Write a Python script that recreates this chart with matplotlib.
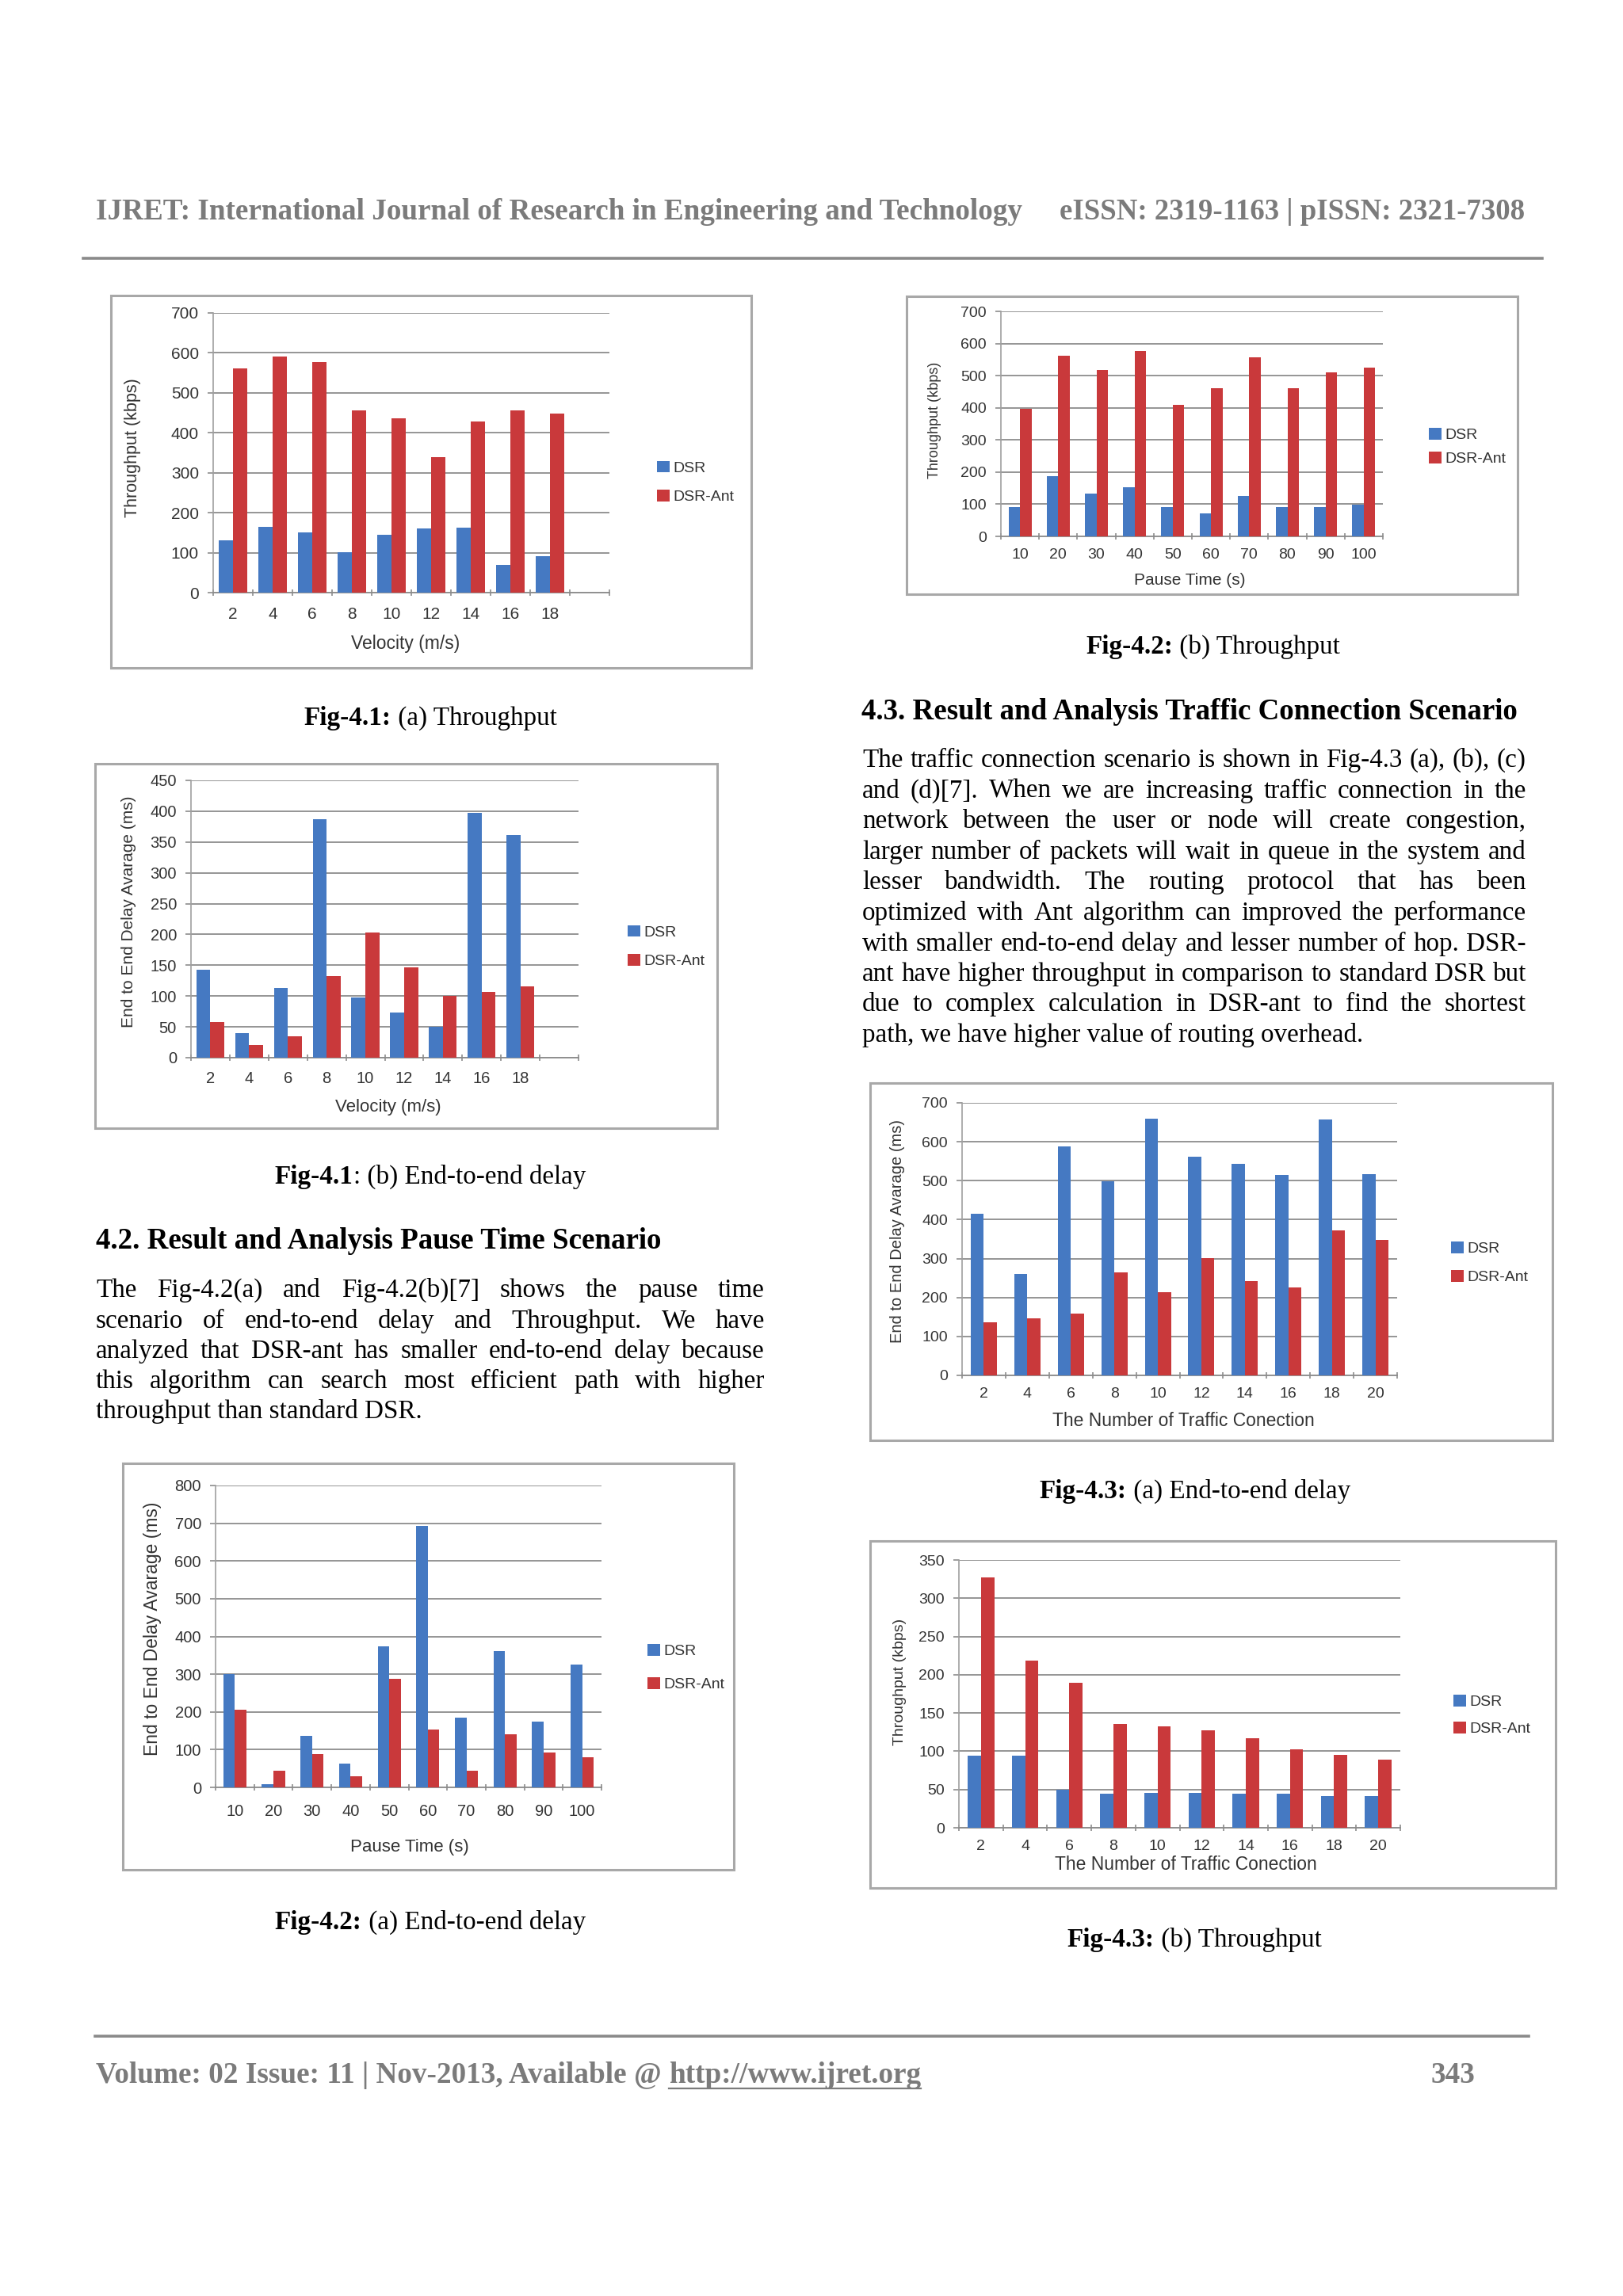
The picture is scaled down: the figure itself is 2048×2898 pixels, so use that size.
import numpy as np
import matplotlib
matplotlib.use('Agg')
import matplotlib.pyplot as plt
from matplotlib.patches import Rectangle
from matplotlib.lines import Line2D

W, H = 2048, 2898
SERIF = 'Liberation Serif'
SANS = 'Liberation Sans'
BLUE = '#4579C2'
RED = '#C9393B'
GRAY = '#7b7b7b'

# ---- data ----
velocity = ['2', '4', '6', '8', '10', '12', '14', '16', '18']
pause_time = ['10', '20', '30', '40', '50', '60', '70', '80', '90', '100']
connections = ['2', '4', '6', '8', '10', '12', '14', '16', '18', '20']
series = ['DSR', 'DSR-Ant']

# Fig-4.1 (a) throughput (kbps) vs velocity
thr_vel_dsr = [130, 165, 150, 102, 145, 160, 163, 70, 92]
thr_vel_ant = [562, 590, 578, 456, 436, 340, 428, 456, 448]
# Fig-4.1 (b) end to end delay (ms) vs velocity
dly_vel_dsr = [143, 40, 113, 387, 98, 73, 50, 397, 361]
dly_vel_ant = [58, 20, 35, 133, 203, 146, 100, 107, 116]
# Fig-4.2 (a) end to end delay (ms) vs pause time
dly_pause_dsr = [300, 8, 137, 63, 373, 693, 184, 362, 175, 325]
dly_pause_ant = [205, 45, 88, 30, 288, 154, 45, 140, 92, 80]
# Fig-4.2 (b) throughput (kbps) vs pause time
thr_pause_dsr = [90, 188, 132, 152, 90, 72, 126, 90, 90, 98]
thr_pause_ant = [398, 562, 518, 577, 410, 460, 558, 462, 510, 525]
# Fig-4.3 (a) end to end delay (ms) vs traffic connections
dly_conn_dsr = [415, 260, 588, 498, 660, 562, 543, 514, 658, 516]
dly_conn_ant = [137, 146, 158, 265, 213, 302, 242, 226, 373, 347]
# Fig-4.3 (b) throughput (kbps) vs traffic connections
thr_conn_dsr = [94, 94, 50, 45, 46, 46, 45, 45, 41, 41]
thr_conn_ant = [327, 219, 189, 136, 133, 127, 117, 102, 95, 89]

# ---- page text ----
header_left = 'IJRET: International Journal of Research in Engineering and Technology'
header_right = 'eISSN: 2319-1163 | pISSN: 2321-7308'
footer_left = 'Volume: 02 Issue: 11 | Nov-2013, Available @ '
footer_url = 'http://www.ijret.org'
page_no = '343'

head_43 = '4.3. Result and Analysis Traffic Connection Scenario'
para_43 = ['The traffic connection scenario is shown in Fig-4.3 (a), (b), (c)',
           'and (d)[7]. When we are increasing traffic connection in the',
           'network between the user or node will create congestion,',
           'larger number of packets will wait in queue in the system and',
           'lesser bandwidth. The routing protocol that has been',
           'optimized with Ant algorithm can improved the performance',
           'with smaller end-to-end delay and lesser number of hop. DSR-',
           'ant have higher throughput in comparison to standard DSR but',
           'due to complex calculation in DSR-ant to find the shortest',
           'path, we have higher value of routing overhead.']
head_42 = '4.2. Result and Analysis Pause Time Scenario'
para_42 = ['The Fig-4.2(a) and Fig-4.2(b)[7] shows the pause time',
           'scenario of end-to-end delay and Throughput. We have',
           'analyzed that DSR-ant has smaller end-to-end delay because',
           'this algorithm can search most efficient path with higher',
           'throughput than standard DSR.']

fig = plt.figure(figsize=(W / 100, H / 100), dpi=100)
fig.patch.set_facecolor('white')
R = fig.canvas.get_renderer()


def fx(x):
    return x / W


def fy(y):
    return 1 - y / H


def width(s, size, weight='normal', family=SERIF):
    t = fig.text(0, 0, s, fontsize=size, fontweight=weight, family=family)
    w = t.get_window_extent(R).width
    t.remove()
    return w


def put(x, y, s, size, weight='normal', color='black', family=SERIF, ha='left'):
    # y is the visual centre of the line, convert to a baseline
    base = y + 0.3 * size * 100 / 72
    return fig.text(fx(x), fy(base), s, fontsize=size, fontweight=weight,
                    color=color, family=family, ha=ha, va='baseline')


def fit_size(s, x0, x1, weight='normal'):
    return 20 * (x1 - x0) / width(s, 20, weight)


def paragraph(lines, x0, x1, ys, size):
    for i, (line, y) in enumerate(zip(lines, ys)):
        if i == len(lines) - 1:
            put(x0, y, line, size)
            continue
        words = line.split()
        ws = [width(w, size) for w in words]
        gap = (x1 - x0 - sum(ws)) / (len(words) - 1)
        x = x0
        for w, wd in zip(words, ws):
            put(x, y, w, size)
            x += wd + gap


def caption(cx, y, bold, rest, size):
    wb = width(bold, size, 'bold')
    wr = width(rest, size)
    x = cx - (wb + wr) / 2
    put(x, y, bold, size, 'bold')
    put(x + wb, y, rest, size)


def chart(box, area, cats, dsr, ant, ymax, step, bw, fs,
          ylabel, ylab_xy, ylab_fs, xlabel, xlab_xy, xlab_fs, leg_xy, leg_sp, xpad):
    l, t, r, b = box
    fig.patches.append(Rectangle((fx(l), fy(b)), (r - l) / W, (b - t) / H,
                                 transform=fig.transFigure, fill=False,
                                 ec='#a8a8a8', lw=2.2))
    l, t, r, b = area
    ax = fig.add_axes([fx(l), fy(b), (r - l) / W, (b - t) / H])
    x = np.arange(len(cats))
    ax.bar(x - bw / 2, dsr, bw, color=BLUE, label=series[0], zorder=3)
    ax.bar(x + bw / 2, ant, bw, color=RED, label=series[1], zorder=3)
    ax.set_xlim(-0.5, 9.5)
    ax.set_ylim(0, ymax)
    ax.set_yticks(np.arange(0, ymax + step, step))
    ax.set_xticks(x)
    ax.set_xticklabels(cats)
    ax.set_xticks(np.arange(-0.5, 10, 1), minor=True)
    ax.tick_params(axis='x', which='major', length=0, pad=xpad,
                   labelsize=fs, labelcolor='#333333')
    ax.tick_params(axis='x', which='minor', length=6, width=1.2,
                   color='#8c8c8c', direction='inout')
    ax.tick_params(axis='y', length=5, width=1.2, color='#8c8c8c', pad=8,
                   labelsize=fs, labelcolor='#333333')
    for lab in ax.get_xticklabels() + ax.get_yticklabels():
        lab.set_family(SANS)
    ax.yaxis.grid(True, color='#8c8c8c', lw=1.3)
    ax.set_axisbelow(True)
    ax.spines['top'].set_visible(False)
    ax.spines['right'].set_visible(False)
    ax.spines['left'].set_color('#a0a0a0')
    ax.spines['bottom'].set_color('#8c8c8c')
    ax.spines['left'].set_linewidth(1.2)
    ax.spines['bottom'].set_linewidth(1.3)
    ax.set_facecolor('none')
    fig.text(fx(ylab_xy[0]), fy(ylab_xy[1]), ylabel, rotation=90, ha='center',
             va='center', fontsize=ylab_fs, color='#333333', family=SANS)
    fig.text(fx(xlab_xy[0]), fy(xlab_xy[1]), xlabel, ha='center', va='center',
             fontsize=xlab_fs, color='#333333', family=SANS)
    leg = ax.legend(loc='center left', bbox_to_anchor=(fx(leg_xy[0]), fy(leg_xy[1])),
                    bbox_transform=fig.transFigure, frameon=False, fontsize=14,
                    handlelength=0.8, handleheight=0.8, handletextpad=0.25,
                    labelspacing=leg_sp, borderpad=0, borderaxespad=0)
    for txt in leg.get_texts():
        txt.set_family(SANS)
        txt.set_color('#333333')
    return ax


# ---- header / footer ----
hs = fit_size(header_left, 121, 1286, 'bold')
put(121, 266, header_left, hs, 'bold', GRAY)
hs2 = fit_size(header_right, 1337, 1923, 'bold')
put(1337, 266, header_right, hs2, 'bold', GRAY)
fig.add_artist(Line2D([fx(105), fx(1946)], [fy(326), fy(326)], color='#8a8a8a', lw=2.6))

fig.add_artist(Line2D([fx(120), fx(1929)], [fy(2570), fy(2570)], color='#8a8a8a', lw=2.6))
fs_foot = fit_size(footer_left + footer_url, 121, 1162, 'bold')
put(121, 2618, footer_left, fs_foot, 'bold', GRAY)
ux = 121 + width(footer_left, fs_foot, 'bold')
put(ux, 2618, footer_url, fs_foot, 'bold', GRAY)
uw = width(footer_url, fs_foot, 'bold')
fig.add_artist(Line2D([fx(ux), fx(ux + uw)], [fy(2636), fy(2636)], color=GRAY, lw=1.6))
put(1861, 2618, page_no, fs_foot, 'bold', GRAY, ha='right')

# ---- body text ----
body = min(fit_size(s, 1088, 1926) for s in para_43[:-1])
body = min(body, min(fit_size(s, 121, 965) for s in para_42[:-1])) * 0.995

put(1087, 897, head_43, fit_size(head_43, 1087, 1917, 'bold'), 'bold')
paragraph(para_43, 1088, 1926, [958, 997, 1035, 1074, 1112, 1151, 1190, 1228, 1266, 1305], body)
put(121, 1565, head_42, fit_size(head_42, 121, 835, 'bold'), 'bold')
paragraph(para_42, 121, 965, [1627, 1666, 1704, 1742, 1780], body)

caption(543, 905, 'Fig-4.1:', ' (a) Throughput', body)
caption(1531, 815, 'Fig-4.2:', ' (b) Throughput', body)
caption(543, 1484, 'Fig-4.1', ': (b) End-to-end delay', body)
caption(1508, 1881, 'Fig-4.3:', ' (a) End-to-end delay', body)
caption(543, 2425, 'Fig-4.2:', ' (a) End-to-end delay', body)
caption(1507, 2447, 'Fig-4.3:', ' (b) Throughput', body)

# ---- charts ----
chart((140, 373, 948, 843), (269, 395, 769, 748), velocity, thr_vel_dsr, thr_vel_ant,
      700, 100, 0.36, 15, 'Throughput (kbps)', (168, 565), 15.5,
      'Velocity (m/s)', (512, 813), 16.5, (829, 609), 0.95, 13)
chart((1144, 374, 1915, 750), (1263, 393, 1745, 677), pause_time, thr_pause_dsr, thr_pause_ant,
      700, 100, 0.30, 14, 'Throughput (kbps)', (1179, 530), 13,
      'Pause Time (s)', (1501, 732), 15, (1803, 564), 0.6, 11)
chart((120, 964, 905, 1424), (241, 985, 730, 1335), velocity, dly_vel_dsr, dly_vel_ant,
      450, 50, 0.36, 14.5, 'End to End Delay Avarage (ms)', (163, 1151), 15,
      'Velocity (m/s)', (490, 1398), 16, (792, 1195), 0.95, 12)
chart((1098, 1367, 1959, 1818), (1214, 1392, 1763, 1736), connections, dly_conn_dsr, dly_conn_ant,
      700, 100, 0.30, 14, 'End to End Delay Avarage (ms)', (1132, 1554), 14.5,
      'The Number of Traffic Conection', (1493, 1793), 16.5, (1831, 1594), 0.9, 11)
chart((155, 1847, 926, 2360), (272, 1875, 759, 2256), pause_time, dly_pause_dsr, dly_pause_ant,
      800, 100, 0.30, 14.5, 'End to End Delay Avarage (ms)', (193, 2056), 16.5,
      'Pause Time (s)', (517, 2331), 16, (817, 2105), 1.25, 15)
chart((1098, 1945, 1963, 2383), (1210, 1969, 1767, 2307), connections, thr_conn_dsr, thr_conn_ant,
      350, 50, 0.30, 14, 'Throughput (kbps)', (1135, 2123), 14,
      'The Number of Traffic Conection', (1496, 2353), 16.5, (1834, 2165), 0.8, 11)

fig.savefig('out.png', dpi=100, facecolor='white')
